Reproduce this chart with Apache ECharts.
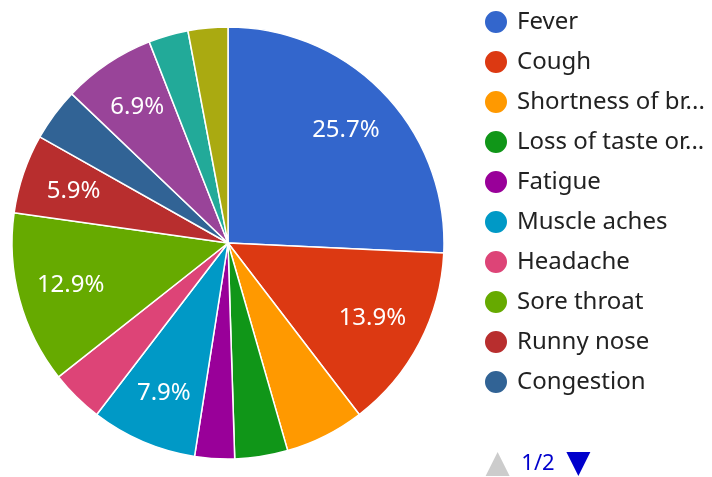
<!DOCTYPE html>
<html>
<head>
<meta charset="utf-8">
<script src="https://cdn.jsdelivr.net/npm/echarts@6/dist/echarts.min.js"></script>
<style>html,body{margin:0;padding:0;background:#fff;}#c{width:712px;height:477px;}</style>
</head>
<body>
<div id="c"></div>
<script>
var categories = ['Fever','Cough','Shortness of breath','Loss of taste or smell','Fatigue','Muscle aches','Headache','Sore throat','Runny nose','Congestion','Nausea','Diarrhea','Chills'];
var values = [26,14,6,4,3,8,4,13,6,4,7,3,3];
var colors = ['#3366cc','#dc3912','#ff9900','#109618','#990099','#0099c6','#dd4477','#66aa00','#b82e2e','#316395','#994499','#22aa99','#aaaa11'];
var labeled = ['Fever','Cough','Muscle aches','Sore throat','Runny nose','Nausea'];

var total = values.reduce(function(a,b){return a+b;},0);
var pieData = categories.map(function(n,i){return {name:n,value:values[i]};});
var labelData = categories.map(function(n,i){
  return {name:n,value:values[i],label:{show:labeled.indexOf(n)>=0}};
});

// legend text truncation (trailing spaces trimmed before the ellipsis)
var LEGEND_FONT = '24px "Noto Sans"';
var ctx = document.createElement('canvas').getContext('2d');
ctx.font = LEGEND_FONT;
function fitName(name, maxW) {
  if (ctx.measureText(name).width <= maxW) return name;
  for (var k = name.length - 1; k > 0; k--) {
    var s = name.slice(0, k).replace(/\s+$/, '') + '...';
    if (ctx.measureText(s).width <= maxW) return s;
  }
  return '...';
}

// pager icons; the "next" icon carries an invisible extent so the pager lines up at the legend's left edge
var EXT = 116;
var upIcon = 'path://M12,0L24,24L0,24Z';
var downIcon = 'path://M0,0L24,0L12,24Z M' + (24+EXT) + ',24L' + (24+EXT) + ',24';

var chart = echarts.init(document.getElementById('c'));
chart.setOption({
  animation:false,
  color:colors,
  legend:{
    type:'scroll',
    orient:'vertical',
    left:478, top:4, height:467,
    icon:'circle',
    itemWidth:32, itemHeight:24, itemGap:14,
    formatter:function(name){ return fitName(name, 194); },
    textStyle:{fontFamily:'Noto Sans',fontSize:24,lineHeight:24,color:'#222',width:192,overflow:'none'},
    pageIcons:{vertical:[upIcon, downIcon]},
    pageIconColor:'#0000cc', pageIconInactiveColor:'#cccccc', pageIconSize:[24+EXT,24],
    pageButtonItemGap:1, pageButtonGap:50,
    pageTextStyle:{color:'#0000cc',fontFamily:'Noto Sans',fontSize:22},
    data:categories
  },
  series:[
    {
      type:'pie', center:[228,243], radius:[0,216], startAngle:90, clockwise:true,
      avoidLabelOverlap:false,
      itemStyle:{borderColor:'#fff',borderWidth:1.5},
      label:{show:false}, labelLine:{show:false},
      emphasis:{disabled:true},
      data:pieData
    },
    {
      type:'pie', center:[228,243], radius:[104,216], startAngle:90, clockwise:true,
      silent:true, avoidLabelOverlap:false,
      itemStyle:{color:'rgba(0,0,0,0)',borderWidth:0},
      label:{position:'inside',color:'#fff',fontFamily:'Noto Sans',fontSize:24,
        formatter:function(p){return (p.value/total*100).toFixed(1)+'%';}},
      labelLine:{show:false},
      emphasis:{disabled:true},
      data:labelData
    }
  ]
});
</script>
</body>
</html>
